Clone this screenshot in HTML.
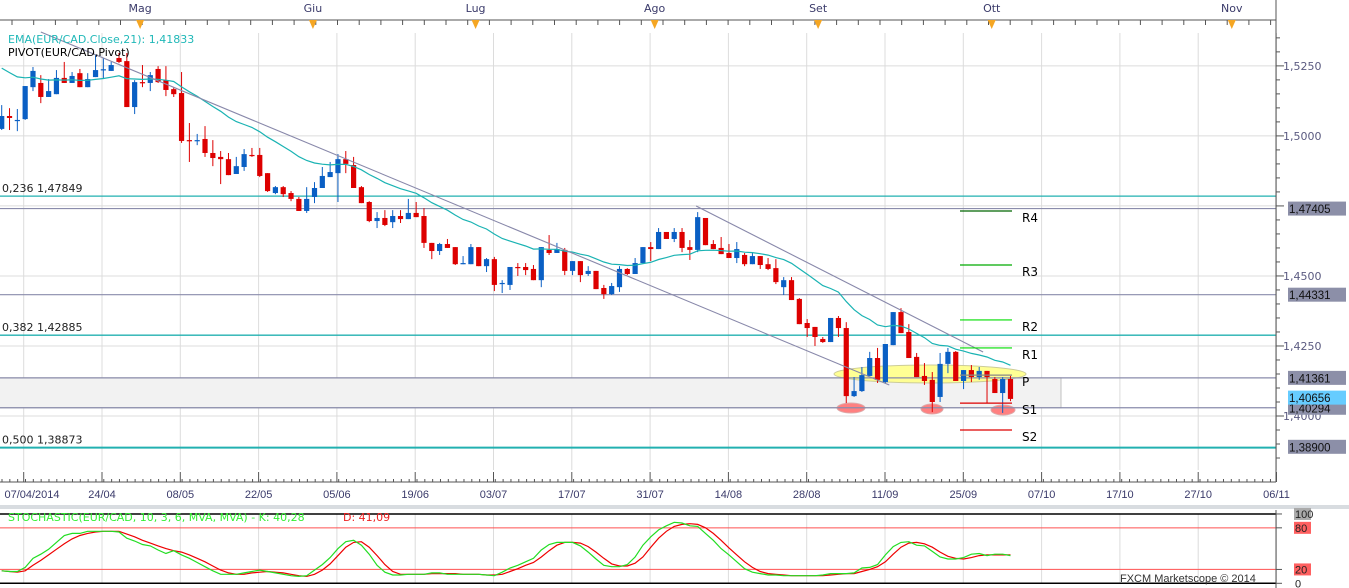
<!DOCTYPE html>
<html><head><meta charset="utf-8"><style>
html,body{margin:0;padding:0;background:#fff;}
svg{display:block;font-family:"Liberation Sans","DejaVu Sans",sans-serif;}
</style></head><body>
<svg id="chart" width="1349" height="588" viewBox="0 0 1349 588" xmlns="http://www.w3.org/2000/svg">
<rect x="0" y="0" width="1349" height="588" fill="#fff"/>
<g id="grid"></g>
<g id="levels"></g>
<g id="candles"></g>
<g id="overlay"></g>
<g id="axes"></g>
<g id="stoch"></g>
</svg>
<script>
const opens=[1.5025,1.5071,1.5053,1.5060,1.5174,1.5189,1.5139,1.5149,1.5207,1.5189,1.5224,1.5174,1.5210,1.5235,1.5232,1.5278,1.5267,1.5103,1.5192,1.5189,1.5239,1.5199,1.5167,1.5153,1.4985,1.4982,1.4989,1.4939,1.4925,1.4917,1.4864,1.4889,1.4932,1.4932,1.4867,1.4796,1.4817,1.4796,1.4775,1.4732,1.4782,1.4814,1.4853,1.4867,1.4917,1.4896,1.4817,1.4764,1.4696,1.4707,1.4692,1.4714,1.4703,1.4725,1.4714,1.4618,1.4589,1.4614,1.4603,1.4546,1.4542,1.4603,1.4535,1.4560,1.4471,1.4468,1.4532,1.4532,1.4525,1.4485,1.4593,1.4582,1.4593,1.4518,1.4553,1.4507,1.4518,1.4457,1.4435,1.4460,1.4525,1.4507,1.4546,1.4603,1.4596,1.4657,1.4632,1.4657,1.4603,1.4593,1.4707,1.4614,1.4600,1.4582,1.4564,1.4575,1.4542,1.4571,1.4542,1.4528,1.4460,1.4485,1.4418,1.4332,1.4318,1.4275,1.4264,1.4350,1.4314,1.4071,1.4089,1.4143,1.4207,1.4121,1.4253,1.4371,1.4300,1.4211,1.4143,1.4129,1.4068,1.4186,1.4229,1.4125,1.4164,1.4139,1.4161,1.4132,1.4082,1.4132];
const highs=[1.5110,1.5099,1.5096,1.5178,1.5246,1.5217,1.5203,1.5235,1.5264,1.5228,1.5239,1.5224,1.5289,1.5278,1.5264,1.5296,1.5296,1.5199,1.5253,1.5228,1.5249,1.5249,1.5174,1.5228,1.5046,1.5007,1.5035,1.4985,1.4946,1.4939,1.4925,1.4953,1.4957,1.4957,1.4867,1.4821,1.4821,1.4803,1.4782,1.4817,1.4835,1.4889,1.4907,1.4935,1.4946,1.4925,1.4821,1.4767,1.4728,1.4735,1.4735,1.4735,1.4775,1.4764,1.4742,1.4618,1.4618,1.4632,1.4603,1.4571,1.4614,1.4603,1.4564,1.4568,1.4485,1.4532,1.4546,1.4546,1.4539,1.4603,1.4646,1.4618,1.4600,1.4553,1.4553,1.4535,1.4518,1.4468,1.4475,1.4535,1.4528,1.4564,1.4603,1.4621,1.4671,1.4657,1.4671,1.4671,1.4628,1.4728,1.4707,1.4628,1.4639,1.4614,1.4621,1.4582,1.4582,1.4571,1.4564,1.4560,1.4496,1.4496,1.4421,1.4346,1.4318,1.4282,1.4350,1.4357,1.4335,1.4139,1.4175,1.4229,1.4243,1.4257,1.4371,1.4385,1.4328,1.4225,1.4189,1.4157,1.4225,1.4243,1.4232,1.4164,1.4182,1.4175,1.4161,1.4139,1.4139,1.4143];
const lows=[1.5021,1.5021,1.5017,1.5057,1.5160,1.5117,1.5139,1.5149,1.5189,1.5189,1.5174,1.5174,1.5210,1.5203,1.5232,1.5260,1.5103,1.5078,1.5174,1.5160,1.5189,1.5142,1.5139,1.4975,1.4907,1.4967,1.4925,1.4892,1.4828,1.4860,1.4864,1.4875,1.4925,1.4853,1.4800,1.4792,1.4782,1.4767,1.4732,1.4725,1.4760,1.4814,1.4853,1.4764,1.4867,1.4814,1.4760,1.4692,1.4671,1.4678,1.4671,1.4689,1.4703,1.4710,1.4600,1.4560,1.4575,1.4600,1.4539,1.4542,1.4542,1.4535,1.4514,1.4446,1.4439,1.4450,1.4500,1.4503,1.4485,1.4460,1.4575,1.4582,1.4503,1.4503,1.4478,1.4500,1.4453,1.4418,1.4432,1.4443,1.4503,1.4507,1.4546,1.4553,1.4596,1.4632,1.4621,1.4585,1.4557,1.4585,1.4610,1.4596,1.4578,1.4564,1.4546,1.4535,1.4542,1.4525,1.4521,1.4471,1.4432,1.4414,1.4328,1.4282,1.4250,1.4261,1.4264,1.4282,1.4046,1.4068,1.4086,1.4143,1.4118,1.4118,1.4253,1.4296,1.4207,1.4139,1.4111,1.4014,1.4050,1.4153,1.4125,1.4096,1.4121,1.4129,1.4046,1.4082,1.4011,1.4053];
const closes=[1.5071,1.5064,1.5057,1.5178,1.5232,1.5139,1.5160,1.5207,1.5189,1.5214,1.5174,1.5203,1.5235,1.5238,1.5253,1.5264,1.5103,1.5192,1.5189,1.5217,1.5192,1.5164,1.5149,1.4982,1.4982,1.4985,1.4939,1.4921,1.4917,1.4860,1.4892,1.4935,1.4928,1.4857,1.4803,1.4817,1.4792,1.4775,1.4732,1.4775,1.4814,1.4857,1.4871,1.4917,1.4900,1.4814,1.4760,1.4696,1.4707,1.4682,1.4714,1.4703,1.4725,1.4710,1.4618,1.4589,1.4614,1.4600,1.4542,1.4546,1.4603,1.4535,1.4560,1.4468,1.4475,1.4532,1.4528,1.4521,1.4485,1.4603,1.4582,1.4596,1.4518,1.4553,1.4503,1.4518,1.4453,1.4435,1.4464,1.4525,1.4507,1.4546,1.4603,1.4596,1.4657,1.4632,1.4657,1.4600,1.4593,1.4710,1.4610,1.4596,1.4578,1.4564,1.4596,1.4542,1.4571,1.4539,1.4525,1.4478,1.4485,1.4414,1.4328,1.4314,1.4282,1.4264,1.4350,1.4314,1.4071,1.4089,1.4146,1.4207,1.4129,1.4257,1.4371,1.4296,1.4207,1.4139,1.4125,1.4050,1.4186,1.4229,1.4125,1.4164,1.4139,1.4161,1.4139,1.4082,1.4132,1.4061];
const stochK=[18,17,17,23,36,42,49,59,69,72,72,75,75,75,75,74,65,61,56,54,48,43,47,41,36,30,24,18,13,13,13,15,17,19,17,15,13,11,10,11,19,27,37,50,60,62,55,42,26,16,12,12,13,13,13,15,15,13,13,13,13,13,12,11,16,22,26,31,36,48,56,59,59,59,54,45,35,26,24,24,27,38,55,67,77,83,88,87,83,82,72,62,50,41,31,21,16,14,12,12,11,11,11,11,11,12,14,14,14,15,22,23,27,41,53,59,60,55,54,46,38,35,35,37,42,43,40,42,42,40];
const stochD=[18,17,16,18,26,33,41,49,57,64,69,72,74,75,75,75,71,67,62,58,54,50,47,45,41,36,31,25,19,15,13,13,15,16,17,16,15,13,11,10,13,19,28,40,52,59,60,52,40,27,17,13,13,13,13,14,14,14,14,13,13,13,12,12,13,17,21,26,30,38,47,55,59,59,58,53,45,36,28,25,25,29,38,52,65,75,82,85,86,85,80,72,62,51,41,31,23,17,14,13,12,11,11,11,11,11,12,13,14,14,17,20,24,31,42,52,58,59,57,52,45,39,36,35,37,40,41,41,41,41];
const priceTicks=[1.525,1.500,1.450,1.425,1.400];
const gridPrices=[1.525,1.500,1.475,1.450,1.425,1.400];
const dateLabels=["07/04/2014","24/04","08/05","22/05","05/06","19/06","03/07","17/07","31/07","14/08","28/08","11/09","25/09","07/10","17/10","27/10","06/11"];
const monthLabels=["Mag","Giu","Lug","Ago","Set","Ott","Nov"];
const monthIdx=[17.7,39.8,60.6,83.5,104.4,126.6,157.3];
const fibNames=["0,236 1,47849","0,382 1,42885","0,500 1,38873"];
const fibValues=[1.47849,1.42885,1.38873];
const hLevels=[1.47405,1.44331,1.41361,1.40294];
const pivotNames=["R4","R3","R2","R1","P","S1","S2"];
const pivotValues=[1.4732,1.4539,1.4343,1.4243,1.4146,1.4046,1.3950];
const pivotColors=["#006600","#00aa00","#00dd00","#00dd00","#888888","#dd0000","#dd0000"];

const NS="http://www.w3.org/2000/svg";
function mk(parent,tag,attrs,txt){const e=document.createElementNS(NS,tag);for(const k in attrs)e.setAttribute(k,attrs[k]);if(txt!==undefined)e.textContent=txt;parent.appendChild(e);return e;}
const X=i=>1.7+7.82*i;
const Y=p=>416-(p-1.4)*2801;
const SY=v=>583.3-v*0.6933;
const G=document.getElementById('grid'),L=document.getElementById('levels'),C=document.getElementById('candles'),O=document.getElementById('overlay'),A=document.getElementById('axes'),S=document.getElementById('stoch');
const DV='"DejaVu Sans","Liberation Sans",sans-serif';

dateLabels.forEach((d,k)=>{const x=102+78.3*(k-1);
 let g=mk(G,'line',{x1:x,y1:33,x2:x,y2:470,stroke:'#dcdcdc','stroke-width':1});
 
 g=mk(G,'line',{x1:x,y1:514,x2:x,y2:583,stroke:'#dcdcdc','stroke-width':1});
 
});
gridPrices.forEach(p=>{const g=mk(G,'line',{x1:0,y1:Y(p),x2:1276,y2:Y(p),stroke:'#dcdcdc','stroke-width':1});
 });

let e=mk(L,'rect',{x:-1,y:Y(1.41361),width:1062,height:Y(1.40294)-Y(1.41361),fill:'#f2f2f2',stroke:'#c0c0c0'});

e=mk(L,'ellipse',{cx:930,cy:374,rx:96,ry:9,fill:'#ffff88',stroke:'#cccc99','fill-opacity':0.9});

[[851,408,14],[932,409,11],[1003,410,12]].forEach(c=>{const r=mk(L,'ellipse',{cx:c[0],cy:c[1],rx:c[2],ry:5,fill:'#ff8080',stroke:'#ddaaaa'});
 });

hLevels.forEach(p=>{const l=mk(L,'line',{x1:0,y1:Y(p),x2:1276,y2:Y(p),stroke:'#8a8cab','stroke-width':1.2});
 });
fibValues.forEach((p,k)=>{const l=mk(L,'line',{x1:0,y1:Y(p),x2:1276,y2:Y(p),stroke:'#22b0b0','stroke-width':k==2?2:1.3});
 
 const t=mk(L,'text',{x:2,y:Y(p)-4,'font-size':11,fill:'#222','font-family':DV},fibNames[k]);
 });

closes.forEach((c,i)=>{const o=opens[i],h=highs[i],lo=lows[i];const up=c>=o;const col=up?'#0a5fc4':'#dd0000';const x=X(i);
 const w=mk(C,'line',{x1:x,y1:Y(h),x2:x,y2:Y(lo),stroke:col,'stroke-width':1});
 
 const top=Y(Math.max(o,c)),bh=Math.max(1.2,Math.abs(Y(o)-Y(c)));
 const b=mk(C,'rect',{x:x-2.6,y:top,width:5.2,height:bh,fill:col});
 });

let ema=1.5242,pts=[];const a=2/22;
closes.forEach((c,i)=>{if(i>0)ema=ema+a*(c-ema);pts.push(X(i).toFixed(1)+','+Y(ema).toFixed(1));});
e=mk(O,'polyline',{points:pts.join(' '),fill:'none',stroke:'#1ab3b3','stroke-width':1.2});

e=mk(O,'line',{x1:X(5),y1:32,x2:X(113.5),y2:385,stroke:'#8888aa','stroke-width':1.1});

e=mk(O,'line',{x1:X(88.8),y1:206,x2:X(125.5),y2:352,stroke:'#8888aa','stroke-width':1.1});

pivotValues.forEach((p,k)=>{const l=mk(O,'line',{x1:960,y1:Y(p),x2:1012,y2:Y(p),stroke:pivotColors[k],'stroke-width':1.2});
 
 const t=mk(O,'text',{x:1022,y:Y(p)+11,'font-size':12,fill:'#000','font-family':DV},pivotNames[k]);
 });

e=mk(O,'text',{x:8,y:43,'font-size':11,fill:'#20b8b8','font-family':DV},'EMA(EUR/CAD.Close,21): 1,41833');

e=mk(O,'text',{x:8,y:56,'font-size':11,fill:'#000','font-family':DV},'PIVOT(EUR/CAD,Pivot)');


e=mk(A,'line',{x1:0,y1:20,x2:1276,y2:20,stroke:'#555'});
for(let x=12;x<1276;x+=21.7){const t=mk(A,'line',{x1:x,y1:20,x2:x,y2:25,stroke:'#555'});}
monthLabels.forEach((m,k)=>{const x=X(monthIdx[k]);
 const t=mk(A,'text',{x:x,y:12,'font-size':11,fill:'#3a3a6a','text-anchor':'middle','font-family':DV},m);
 
 const tr=mk(A,'polygon',{points:(x-4)+',20 '+(x+4)+',20 '+x+',29',fill:'#f5a623'});
 });
e=mk(A,'line',{x1:1276,y1:0,x2:1276,y2:482,stroke:'#555'});
for(let p=1.385;p<=1.535;p+=0.005){const y=Y(p);const big=Math.abs((p*1000)%25)<0.01||Math.abs((p*1000)%25-25)<0.01;
 const t=mk(A,'line',{x1:1276,y1:y,x2:big?1284:1280,y2:y,stroke:'#555'});}
priceTicks.forEach(p=>{const t=mk(A,'text',{x:1283,y:Y(p)+4,'font-size':11,fill:'#5a5a80','font-family':DV},p.toFixed(4).replace('.',','));
 });
const boxes=[[1.47405,'#8c8fa8'],[1.44331,'#8c8fa8'],[1.41361,'#8c8fa8'],[1.40294,'#8c8fa8'],[1.40656,'#66ccff'],[1.38900,'#8c8fa8']];
boxes.forEach(b=>{const y=Y(b[0]);const r=mk(A,'rect',{x:1288,y:y-7,width:58,height:14,fill:b[1]});
 
 const t=mk(A,'text',{x:1289,y:y+4.5,'font-size':11.5,fill:'#111'},b[0].toFixed(5).replace('.',','));
 });
e=mk(A,'line',{x1:0,y1:482,x2:1276,y2:482,stroke:'#555'});
for(let x=2;x<1276;x+=7.83){const t=mk(A,'line',{x1:x,y1:479,x2:x,y2:482,stroke:'#555'});}
dateLabels.forEach((d,k)=>{const x=102+78.3*(k-1);
 const tk=mk(A,'line',{x1:x,y1:472,x2:x,y2:482,stroke:'#555'});
 const t=mk(A,'text',{x:k==0?32:x,y:498,'font-size':11,fill:'#3a3a6a','text-anchor':'middle'},d);
 });
e=mk(A,'rect',{x:0,y:505,width:1349,height:4,fill:'#d8dce0'});

[[100,'#000'],[0,'#000']].forEach(l=>{const t=mk(S,'line',{x1:0,y1:SY(l[0]),x2:1276,y2:SY(l[0]),stroke:l[1],'stroke-width':1.5});});
[80,20].forEach(v=>{const t=mk(S,'line',{x1:0,y1:SY(v),x2:1276,y2:SY(v),stroke:'#ff5050','stroke-width':1});});
e=mk(S,'line',{x1:1276,y1:510,x2:1276,y2:588,stroke:'#555'});
e=mk(S,'polyline',{points:stochD.map((v,i)=>X(i).toFixed(1)+','+SY(v).toFixed(1)).join(' '),fill:'none',stroke:'#ee0000','stroke-width':1.2});

e=mk(S,'polyline',{points:stochK.map((v,i)=>X(i).toFixed(1)+','+SY(v).toFixed(1)).join(' '),fill:'none',stroke:'#22dd22','stroke-width':1.2});

[[100,'#aaaaaa'],[80,'#ff6060'],[20,'#ff6060'],[0,'#ffffff']].forEach(l=>{const y=SY(l[0]);
 const r=mk(S,'rect',{x:1294,y:y-6,width:17,height:12,fill:l[1]});
 const t=mk(S,'text',{x:1295,y:y+4,'font-size':11,fill:'#222'},String(l[0]));
 const tk=mk(S,'line',{x1:1276,y1:y,x2:1282,y2:y,stroke:'#555'});});
e=mk(S,'text',{x:8,y:521,'font-size':11,fill:'#33ee33','font-family':DV},'STOCHASTIC(EUR/CAD, 10, 3, 6, MVA, MVA) -  K: 40,28');

e=mk(S,'text',{x:343,y:521,'font-size':11,fill:'#ee2222','font-family':DV},'D: 41,09');

e=mk(S,'text',{x:1120,y:582,'font-size':11,fill:'#333'},'FXCM Marketscope © 2014');

</script>
</body></html>
